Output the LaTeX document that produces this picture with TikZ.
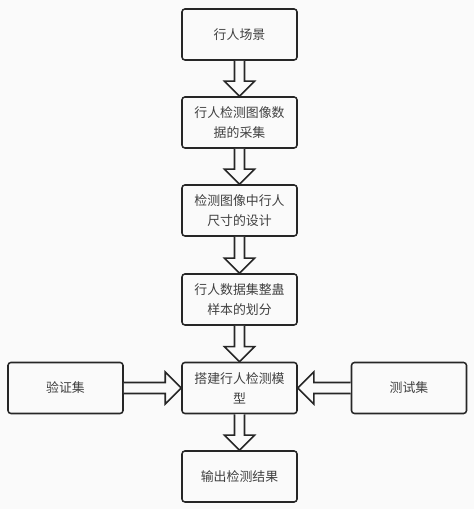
\documentclass[tikz,border=0pt]{standalone}
\usepackage{fontspec}
\setmainfont{Noto Sans CJK SC}
\usetikzlibrary{calc}
\definecolor{bgcol}{HTML}{FAFAFA}
\definecolor{txtcol}{HTML}{404040}
\begin{document}
\begin{tikzpicture}[
    stepbox/.style={draw=black!85, line width=1.3pt, rounded corners=2.5pt, fill=bgcol,
        minimum width=3.45cm, minimum height=1.53cm, align=center, text=txtcol,
        font=\fontsize{11}{17}\selectfont},
    hollow/.style={draw=black!85, line width=1.3pt, fill=bgcol, line join=miter}
]
\fill[bgcol] (0,0) rectangle (14.22,15.27);
\useasboundingbox (0,0) rectangle (14.22,15.27);

% Main column
\node[stepbox] (s1) at (7.185,14.235) {行人场景};
\node[stepbox] (s2) at (7.185,11.595) {行人检测图像数\\据的采集};
\node[stepbox] (s3) at (7.185,8.955) {检测图像中行人\\尺寸的设计};
\node[stepbox] (s4) at (7.185,6.285) {行人数据集整蛊\\样本的划分};
\node[stepbox] (s5) at (7.185,3.63) {搭建行人检测模\\型};
\node[stepbox] (s6) at (7.185,0.975) {输出检测结果};

% Side inputs
\node[stepbox] (val) at (1.965,3.63) {验证集};
\node[stepbox] (test) at (12.27,3.63) {测试集};

% Hollow arrows down the column
\foreach \a/\b in {s1/s2,s2/s3,s3/s4,s4/s5,s5/s6}
    \draw[hollow] ($(\a.south)+(-0.15,0)$) -- ($(\b.north)+(-0.15,0.45)$)
        -- ($(\b.north)+(-0.45,0.45)$) -- (\b.north) -- ($(\b.north)+(0.45,0.45)$)
        -- ($(\b.north)+(0.15,0.45)$) -- ($(\a.south)+(0.15,0)$);

% Hollow arrows from the sides
\draw[hollow] ($(val.east)+(0,0.165)$) -- ($(s5.west)+(-0.48,0.165)$)
    -- ($(s5.west)+(-0.48,0.48)$) -- (s5.west) -- ($(s5.west)+(-0.48,-0.48)$)
    -- ($(s5.west)+(-0.48,-0.165)$) -- ($(val.east)+(0,-0.165)$);
\draw[hollow] ($(test.west)+(0,0.165)$) -- ($(s5.east)+(0.48,0.165)$)
    -- ($(s5.east)+(0.48,0.48)$) -- (s5.east) -- ($(s5.east)+(0.48,-0.48)$)
    -- ($(s5.east)+(0.48,-0.165)$) -- ($(test.west)+(0,-0.165)$);

\end{tikzpicture}
\end{document}
